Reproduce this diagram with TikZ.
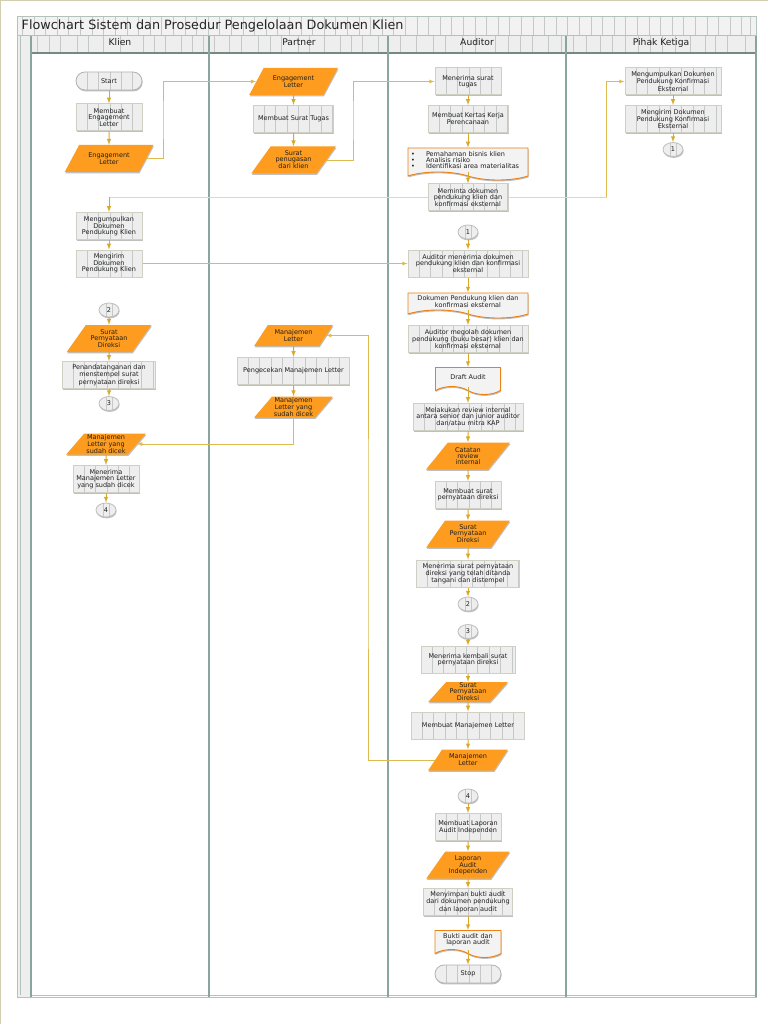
\documentclass[tikz,border=0pt]{standalone}
\usepackage{fontspec}
\setmainfont{DejaVu Sans}
\usetikzlibrary{positioning,shapes,arrows,shadows}
\definecolor{goldline}{HTML}{D8A92A}
\definecolor{paleline}{HTML}{E8D8A4}
\definecolor{thinline}{HTML}{DDBB50}
\definecolor{orangefill}{HTML}{FD9C1E}
\definecolor{boxfill}{HTML}{EEEEEE}
\definecolor{boxline}{HTML}{CFCFC3}
\definecolor{laneline}{HTML}{8AA5A0}
\definecolor{headline}{HTML}{76897F}
\definecolor{frameline}{HTML}{B4C2BE}
\definecolor{stripeline}{HTML}{C4C8C6}
\definecolor{pageline}{HTML}{D2CEB0}
\tikzset{
  dim/.style 2 args={minimum width=#1pt,minimum height=#2pt},
  striped/.style={path picture={\foreach \sx in {#1}
    \draw[stripeline,line width=.4pt] ([xshift=\sx pt]path picture bounding box.north west) -- ([xshift=\sx pt]path picture bounding box.south west);}},
  striped/.default={11,22,34,45,56,68,79,91,102,114},
  softshadow/.style={drop shadow={shadow xshift=.6pt,shadow yshift=-1.4pt,opacity=.5}},
  txt/.style={font=\fontsize{6.5}{5.9}\selectfont,text=black!88,align=center,inner sep=0pt},
  process/.style={txt,rectangle,draw=boxline,line width=1pt,fill=boxfill,softshadow,striped},
  datashape/.style={txt,trapezium,trapezium left angle=50,trapezium right angle=130,trapezium stretches=true,fill=orangefill,softshadow},
  document/.style={txt,tape,tape bend top=none,tape bend bottom=out and in,tape bend height=8pt,draw=orange!70!brown,line width=.9pt,fill=boxfill!70!white,softshadow},
  terminal/.style={txt,rounded rectangle,draw=black!30,line width=.8pt,fill=boxfill,softshadow,striped,dim={66}{18}},
  offpage/.style={txt,ellipse,draw=black!25,line width=.8pt,fill=boxfill,softshadow,striped={7,13},dim={20}{14}},
  link/.style={->,goldline,line width=1pt},
  linkthin/.style={->,thinline,line width=.8pt},
  linkpale/.style={paleline,line width=1.3pt},
  lane/.style={laneline,line width=1.1pt},
  headtxt/.style={font=\fontsize{9.2}{11}\selectfont,text=black!88,inner sep=0pt,anchor=base}
}
\newcommand{\newStep}[4]{\node[#3](#1) at (#4) {#2};}
\newcommand{\newLink}[3]{\draw[#3] (#1) -- (#2);}
\begin{document}
\begin{tikzpicture}[x=1pt,y=-1pt,>=latex]
  \useasboundingbox (0,0) rectangle (768,1024);
  \fill[white] (0,0) rectangle (768,1024);
  \draw[pageline,line width=1.2pt] (.6,1024) -- (.6,.6) -- (768,.6);
  % frame and lanes
  \fill[black!5] (17,17) rectangle (756,35);
  \fill[boxfill] (17,35) rectangle (756,53);
  \fill[boxfill] (17,53) rectangle (31,997);
  \foreach \hx in {37,49,60,77,88,103,120,143,154,165,181,192,203,214,229,241,258,270,281,298,309,324,340,351,362,378,400,416,433,445,462,475,495,508,520,532,548,561,573,586,600,612,625,638,650,662,675,690,705,715,727,745}
    \draw[stripeline,line width=.4pt] (\hx,35) -- (\hx,52);
  \foreach \hx in {22,34,45,57,68,80,92,103,115,127,138,150,161,173,185,196,208,219,231,243,254,266,277,289,301,312,324,335,347,359,370,382,393,405,417,428,440,451,463,475,486,498,509,521,533,544,556,567,579,591,602,614,625,637,649,660,672,683,695,707,718,730,741,750}
    \draw[stripeline,line width=.4pt] (\hx,17) -- (\hx,35);
  \draw[frameline,line width=1pt] (17,17) rectangle (756,997);
  \draw[frameline,line width=.6pt] (17,35) -- (756,35);
  \draw[frameline,line width=.6pt] (20.5,35) -- (20.5,995);
  \draw[frameline,line width=.5pt] (31,995) -- (756,995);
  \draw[headline,line width=1.6pt] (31,53) -- (756,53);
  \foreach \lx in {31,209,388,566,756}
    \draw[lane] (\lx,36) -- (\lx,997);
  \node[font=\fontsize{12.8}{14}\selectfont,text=black!85,anchor=west,inner sep=0pt] (title) at (21.5,25.5) {Flowchart Sistem dan Prosedur Pengelolaan Dokumen Klien};
  \node[headtxt] (headA) at (120,46) {Klien};
  \node[headtxt] (headB) at (299,46) {Partner};
  \node[headtxt] (headC) at (477,46) {Auditor};
  \node[headtxt] (headD) at (661,46) {Pihak Ketiga};
  % Klien
  \newStep{start}{Start}{terminal}{109,81}
  \newStep{mkEL}{Membuat\\Engagement\\Letter}{process,dim={66}{27}}{109,117.5}
  \newStep{elA}{Engagement\\Letter}{datashape,dim={89}{27}}{109,158.5}
  \newStep{kumpulA}{Mengumpulkan\\Dokumen\\Pendukung Klien}{process,dim={66}{27}}{109,226}
  \newStep{kirimA}{Mengirim\\Dokumen\\Pendukung Klien}{process,dim={66}{27}}{109,263.5}
  \newStep{cTwoA}{2}{offpage}{109,310}
  \newStep{spA}{Surat\\Pernyataan\\Direksi}{datashape,dim={85}{27}}{109,338.5}
  \newStep{ttd}{Penandatanganan dan\\menstempel surat\\pernyataan direksi}{process,dim={93}{27}}{109,375}
  \newStep{cThreeA}{3}{offpage}{109,403.5}
  \newStep{mldA}{Manajemen\\Letter yang\\sudah dicek}{datashape,dim={80}{21}}{106,444}
  \newStep{terimaML}{Menerima\\Manajemen Letter\\yang sudah dicek}{process,dim={66}{27}}{106,479}
  \newStep{cFourA}{4}{offpage}{106,510}
  % Partner
  \newStep{elB}{Engagement\\Letter}{datashape,dim={89}{27}}{293.5,81.5}
  \newStep{tugasB}{Membuat Surat Tugas}{process,dim={80}{27}}{293.5,119}
  \newStep{spg}{Surat\\penugasan\\dari klien}{datashape,dim={85}{27}}{293.5,160}
  \newStep{mlB}{Manajemen\\Letter}{datashape,dim={79}{21}}{293.5,335.5}
  \newStep{cek}{Pengecekan Manajemen Letter}{process,dim={112}{27}}{293.5,371}
  \newStep{mldB}{Manajemen\\Letter yang\\sudah dicek}{datashape,dim={79}{21}}{293.5,407}
  % Auditor
  \newStep{tugasC}{Menerima surat\\tugas}{process,dim={66}{27}}{468,81.5}
  \newStep{kertas}{Membuat Kertas Kerja\\Perencanaan}{process,dim={80}{27}}{468,119}
  \newStep{bullets}{\makebox[15pt][l]{\textbullet}Pemahaman bisnis klien\\\makebox[15pt][l]{\textbullet}Analisis risiko\\\makebox[15pt][l]{\textbullet}Identifikasi area materialitas}{document,dim={120}{32},align=left,text width=114pt}{468,160}
  \newStep{minta}{Meminta dokumen\\pendukung klien dan\\konfirmasi eksternal}{process,dim={80}{27}}{468,197.5}
  \newStep{cOneC}{1}{offpage}{468,232}
  \newStep{terimaC}{Auditor menerima dokumen\\pendukung klien dan konfirmasi\\eksternal}{process,dim={120}{27}}{468,263.5}
  \newStep{dokC}{Dokumen Pendukung klien dan\\konfirmasi eksternal}{document,dim={120}{25}}{468,301.5}
  \newStep{olah}{Auditor megolah dokumen\\pendukung (buku besar) klien dan\\konfirmasi eksternal}{process,dim={120}{27}}{468,339}
  \newStep{draft}{Draft Audit}{document,dim={65}{27}}{468,377}
  \newStep{review}{Melakukan review internal\\antara senior dan junior auditor\\dan/atau mitra KAP}{process,dim={110}{27}}{468,417}
  \newStep{catatan}{Catatan\\review\\internal}{datashape,dim={84}{27}}{468,456}
  \newStep{suratC}{Membuat surat\\pernyataan direksi}{process,dim={66}{27}}{468,495}
  \newStep{spC}{Surat\\Pernyataan\\Direksi}{datashape,dim={84}{27}}{468,534}
  \newStep{ttdC}{Menerima surat pernyataan\\direksi yang telah ditanda\\tangani dan distempel}{process,dim={103}{27}}{468,573.5}
  \newStep{cTwoC}{2}{offpage}{468,604}
  \newStep{cThreeC}{3}{offpage}{468,631.5}
  \newStep{kembali}{Menerima kembali surat\\pernyataan direksi}{process,dim={94}{27}}{468,659.5}
  \newStep{spD}{Surat\\Pernyataan\\Direksi}{datashape,dim={80}{20}}{468,692}
  \newStep{mbuatML}{Membuat Manajemen Letter}{process,dim={113}{27}}{468,725.5}
  \newStep{mlC}{Manajemen\\Letter}{datashape,dim={80}{21}}{468,760}
  \newStep{cFourC}{4}{offpage}{468,796}
  \newStep{lapor}{Membuat Laporan\\Audit Independen}{process,dim={66}{27}}{468,827}
  \newStep{lapD}{Laporan\\Audit\\Independen}{datashape,dim={84}{27}}{468,865}
  \newStep{simpan}{Menyimpan bukti audit\\dari dokumen pendukung\\dan laporan audit}{process,dim={89}{27}}{468,902}
  \newStep{bukti}{Bukti audit dan\\laporan audit}{document,dim={66}{27}}{468,940}
  \newStep{stop}{Stop}{terminal}{468,974}
  % Pihak Ketiga
  \newStep{kumpulD}{Mengumpulkan Dokumen\\Pendukung Konfirmasi\\Eksternal}{process,dim={96}{27}}{673,81.5}
  \newStep{kirimD}{Mengirim Dokumen\\Pendukung Konfirmasi\\Eksternal}{process,dim={96}{27}}{673,119}
  \newStep{cOneD}{1}{offpage}{673,149.5}
  % connectors
  \foreach \from/\to in {start/mkEL,mkEL/elA,kumpulA/kirimA,cTwoA/spA,spA/ttd,ttd/cThreeA,mldA/terimaML,terimaML/cFourA,
      elB/tugasB,tugasB/spg,mlB/cek,cek/mldB,
      tugasC/kertas,kertas/bullets,bullets/minta,cOneC/terimaC,terimaC/dokC,dokC/olah,olah/draft,draft/review,review/catatan,catatan/suratC,suratC/spC,spC/ttdC,ttdC/cTwoC,
      cThreeC/kembali,kembali/spD,spD/mbuatML,mbuatML/mlC,cFourC/lapor,lapor/lapD,lapD/simpan,simpan/bukti,bukti/stop,
      kumpulD/kirimD,kirimD/cOneD}
    \newLink{\from.south}{\to.north}{link}
  \coordinate (turnA) at (163,120);
  \coordinate (turnB) at (353,120);
  \coordinate (turnC) at (606.5,197.5);
  \coordinate (turnD) at (368,540);
  \coordinate (turnE) at (109,197.5);
  \draw[linkthin] (elA.east) -| (turnA) |- (elB.west);
  \draw[linkthin] (spg.east) -| (turnB) |- (tugasC.west);
  \newLink{minta.west}{turnE}{linkpale}
  \newLink{minta.east}{turnC}{linkpale}
  \newLink{turnE}{kumpulA.north}{link}
  \draw[linkthin] (turnC) |- (kumpulD.west);
  \newLink{kirimA.east}{terimaC.west}{linkthin}
  \draw[linkthin] (mldB.south) |- (mldA.east);
  \draw[linkthin] (mlC.west) -| (turnD) |- (mlB.east);
\end{tikzpicture}
\end{document}
